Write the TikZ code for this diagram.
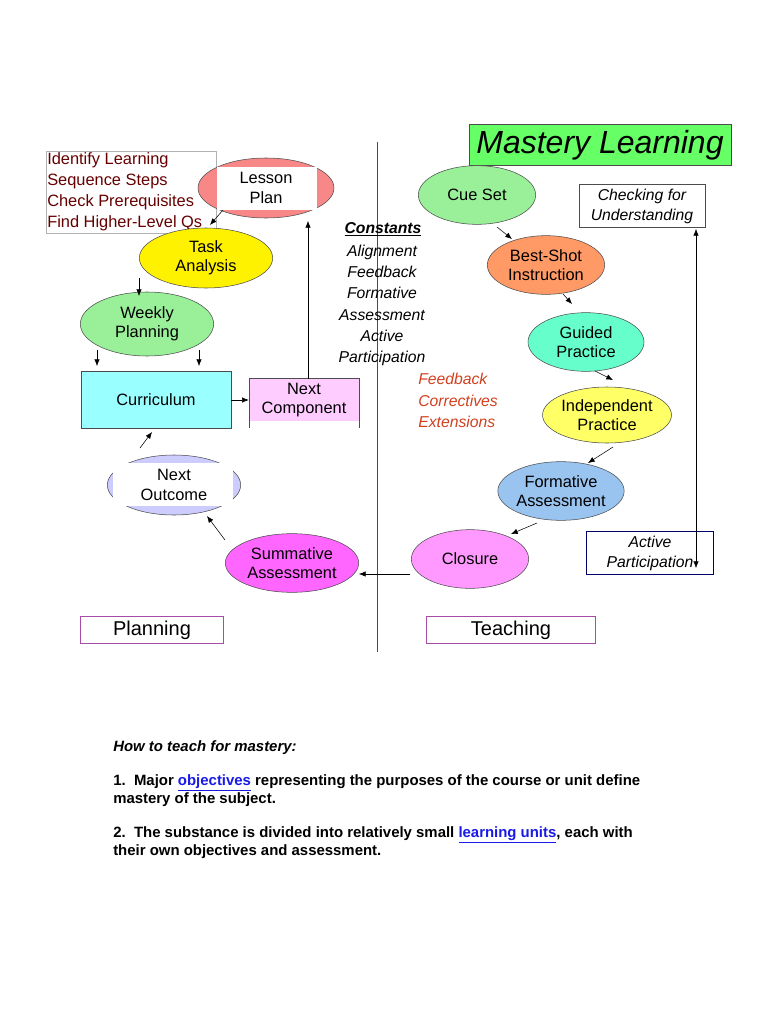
\documentclass[tikz,border=0pt]{standalone}
\usepackage{fontspec}
\setmainfont{Liberation Sans}
\usetikzlibrary{shapes.geometric,arrows.meta}
\definecolor{dred}{HTML}{660000}
\definecolor{redtxt}{HTML}{D2401E}
\definecolor{linkblue}{HTML}{1A1AE6}
\definecolor{salmon}{HTML}{F88888}
\definecolor{lgreen}{HTML}{99F099}
\definecolor{cyanbox}{HTML}{99FFFF}
\definecolor{pinkbox}{HTML}{FFCCFF}
\definecolor{lav}{HTML}{CCCCFF}
\definecolor{summ}{HTML}{FF66FF}
\definecolor{titleg}{HTML}{66FF66}
\definecolor{orng}{HTML}{FF9966}
\definecolor{aqua}{HTML}{66FFCC}
\definecolor{yell}{HTML}{FFFF66}
\definecolor{lblue}{HTML}{99C4F0}
\definecolor{clos}{HTML}{FF99FF}
\tikzset{
  ell/.style={ellipse,draw=black!70,thin,minimum width=#1,inner sep=0pt,align=center,font=\fontsize{12.3}{14.5}\selectfont},
  ell/.default=88pt,
  arr/.style={-{Latex[length=5pt,width=4pt]},thin},
  lbl/.style={font=\fontsize{12.3}{14.5}\selectfont,align=center},
  ital/.style={font=\fontsize{11.8}{16}\selectfont\itshape,align=center},
}
\begin{document}
\begin{tikzpicture}[x=0.75pt,y=-0.75pt]
\useasboundingbox[fill=white] (0,0) rectangle (768,1024);
% divider
\draw[black!70,semithick] (377,142) -- (377,652);
% left text box
\node[draw=black!30,thin,minimum width=127.5pt,minimum height=61.5pt,inner sep=0pt] (lt) at (131,192) {};
\node[anchor=north west,align=left,text=dred,font=\fontsize{12.3}{15.8}\selectfont,inner sep=0pt] (ltt) at (47,152) {Identify Learning\\Sequence Steps\\Check Prerequisites\\Find Higher-Level Qs};
% Lesson plan
\node[ell=102pt,minimum height=45pt,fill=salmon] (lp) at (266,188) {};
\fill[white] (217,167) rectangle (317,210);
\node[lbl] (lpt) at (266,188) {Lesson\\Plan};
\node[ell=100pt,minimum height=45pt,fill=yellow] (ta) at (206,258) {Task\\Analysis};
\node[ell=100pt,minimum height=48pt,fill=lgreen] (wp) at (147,324) {Weekly\\Planning};
\node[draw=black!70,fill=cyanbox,minimum width=112.5pt,minimum height=42.75pt,lbl] (cu) at (156,400) {Curriculum};
\node[draw=black!70,fill=pinkbox,minimum width=82.5pt,minimum height=36.75pt,inner sep=0pt] (nc) at (304,403) {};
\fill[white] (249.5,421) rectangle (358.5,428);
\node[lbl] (nct) at (304,400) {Next\\Component};
\node[ell=100pt,minimum height=45pt,fill=lav] (no) at (174,485) {};
\fill[white] (113,463) rectangle (233,506);
\node[lbl] (not) at (174,485) {Next\\Outcome};
\node[ell=100pt,minimum height=44pt,fill=summ] (sa) at (292,563) {Summative\\Assessment};
% left arrows
\coordinate (a1) at (223,210); \coordinate (a2) at (210,225);
\draw[arr] (a1) -- (a2);
\coordinate (b1) at (139,278); \coordinate (b2) at (139,296);
\draw[arr] (b1) -- (b2);
\coordinate (c1) at (97,350); \coordinate (c2) at (97,366);
\draw[arr] (c1) -- (c2);
\coordinate (d1) at (199,350); \coordinate (d2) at (199,366);
\draw[arr] (d1) -- (d2);
\draw[arr] (cu.east) -- (nc.west |- cu.east);
\coordinate (e1) at (308,379); \coordinate (e2) at (308,221);
\draw[arr] (e1) -- (e2);
\coordinate (f1) at (140,448); \coordinate (f2) at (152,432);
\draw[arr] (f1) -- (f2);
\coordinate (g1) at (225,540); \coordinate (g2) at (207,516);
\draw[arr] (g1) -- (g2);
% constants
\node[ital,font=\fontsize{11.8}{16}\selectfont\bfseries\itshape] (con) at (383,229) {\underline{Constants}};
\node[ital,anchor=north] (cl) at (382,240) {Alignment\\Feedback\\Formative\\Assessment\\Active\\Participation};
\node[ital,text=redtxt,align=left,anchor=north west,inner sep=0pt] (red) at (418,373) {Feedback\\Correctives\\Extensions};
% title
\node[draw=black!70,fill=titleg,minimum width=196.5pt,minimum height=30.75pt,inner sep=0pt,font=\fontsize{24}{28}\selectfont\itshape] (ml) at (600,145) {Mastery Learning};
% teaching ellipses
\node[ell,minimum height=44pt,fill=lgreen] (cs) at (477,195) {Cue Set};
\node[ell,minimum height=44pt,fill=orng] (bs) at (546,265) {Best-Shot\\Instruction};
\node[ell=87pt,minimum height=44pt,fill=aqua] (gp) at (586,342) {Guided\\Practice};
\node[ell=87pt,minimum height=42pt,fill=yell] (ip) at (607,415) {Independent\\Practice};
\node[ell,minimum height=44pt,fill=lblue] (fa) at (561,491) {Formative\\Assessment};
\node[ell,minimum height=44pt,fill=clos] (cl2) at (470,559) {Closure};
\node[draw=black!70,minimum width=94.5pt,minimum height=32pt,inner sep=0pt,ital,font=\fontsize{11.8}{15}\selectfont\itshape] (cfu) at (642,206) {Checking for\\Understanding};
\node[draw=blue!40!black,minimum width=95pt,minimum height=32pt,inner sep=0pt,ital,font=\fontsize{11.8}{15}\selectfont\itshape] (ap) at (650,553) {Active\\Participation};
\coordinate (h1) at (497,227); \coordinate (h2) at (512,239);
\draw[arr] (h1) -- (h2);
\coordinate (i1) at (563,294); \coordinate (i2) at (572,304);
\draw[arr] (i1) -- (i2);
\coordinate (j1) at (595,371); \coordinate (j2) at (613,380);
\draw[arr] (j1) -- (j2);
\coordinate (k1) at (613,447); \coordinate (k2) at (588,463);
\draw[arr] (k1) -- (k2);
\coordinate (l1) at (537,523); \coordinate (l2) at (511,534);
\draw[arr] (l1) -- (l2);
\coordinate (m1) at (696,229); \coordinate (m2) at (696,568);
\draw[{Latex[length=5pt,width=4pt]}-{Latex[length=5pt,width=4pt]},thin] (m1) -- (m2);
\coordinate (n1) at (410,574);
\draw[arr] (n1) -- (sa.east |- n1);
% section labels
\node[draw=violet!70,minimum width=107pt,minimum height=20pt,inner sep=0pt,font=\fontsize{15}{18}\selectfont] (pl) at (152,630) {Planning};
\node[draw=violet!70,minimum width=127pt,minimum height=20pt,inner sep=0pt,font=\fontsize{15}{18}\selectfont] (te) at (511,630) {Teaching};
% bottom text
\node[anchor=north west,align=left,inner sep=0pt,font=\fontsize{11.2}{13.5}\selectfont\bfseries] (bt) at (113,740) {%
\textit{How to teach for mastery:}\\[12pt]
1.\ \ Major \textcolor{linkblue}{\underline{objectives}} representing the purposes of the course or unit define\\mastery of the subject.\\[12pt]
2.\ \ The substance is divided into relatively small \textcolor{linkblue}{\underline{learning units}}, each with\\their own objectives and assessment.};
\end{tikzpicture}
\end{document}
